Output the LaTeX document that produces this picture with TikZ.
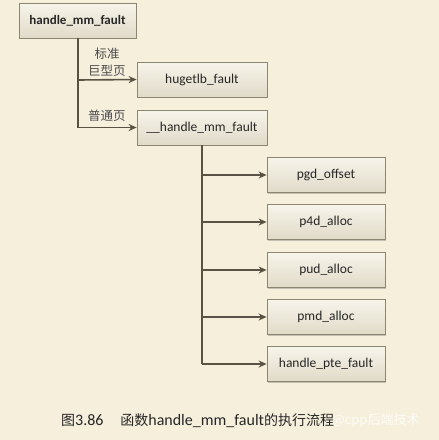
\documentclass[tikz,border=0pt]{standalone}
\usepackage{fontspec}
\setmainfont{Carlito}
\newfontfamily\cjk{Noto Sans CJK SC}
\usetikzlibrary{shadows,arrows.meta}
\definecolor{bg}{HTML}{F5EFDC}
\definecolor{ln}{HTML}{5A5244}
\definecolor{bd}{HTML}{8C8572}
\definecolor{ftop}{HTML}{F7F4EA}
\definecolor{fbot}{HTML}{E0DAC8}
\tikzset{
  fbox/.style={draw=bd, line width=0.8pt, top color=ftop, bottom color=fbot,
    minimum height=35pt, inner sep=0pt, font=\fontsize{13.5}{15}\selectfont, text=black!85,
    drop shadow={shadow xshift=1.2pt, shadow yshift=-1.2pt, opacity=0.35, fill=black!60}},
  conn/.style={draw=ln, line width=1.6pt},
  arr/.style={conn, -{Stealth[length=8pt,width=7pt]}},
  lab/.style={font=\cjk\fontsize{12.5}{17}\selectfont, text=black!70, align=center, inner sep=0pt}
}
\begin{document}
\begin{tikzpicture}[x=1pt,y=-1pt]
\fill[bg] (0,0) rectangle (439,440);
\useasboundingbox (0,0) rectangle (439,440);
\node[fbox, minimum width=117pt, font=\bfseries\fontsize{13}{15}\selectfont] (a) at (77.5,20.5) {handle\_mm\_fault};
\node[fbox, minimum width=130pt] (b) at (202,79.5) {hugetlb\_fault};
\node[fbox, minimum width=130pt] (c) at (202,127.5) {\_\_handle\_mm\_fault};
\node[fbox, minimum width=118pt] (d1) at (326,175) {pgd\_offset};
\node[fbox, minimum width=118pt] (d2) at (326,222) {p4d\_alloc};
\node[fbox, minimum width=118pt] (d3) at (326,270) {pud\_alloc};
\node[fbox, minimum width=118pt] (d4) at (326,317) {pmd\_alloc};
\node[fbox, minimum width=118pt] (d5) at (326,364) {handle\_pte\_fault};
\coordinate (ja) at (78,80);
\coordinate (jb) at (78,127.5);
\draw[conn] (a.south -| ja) -- (jb);
\draw[arr] (ja) -- (b.west);
\draw[arr] (jb) -- (c.west);
\coordinate (k1) at (202,175);
\coordinate (k2) at (202,222);
\coordinate (k3) at (202,270);
\coordinate (k4) at (202,317);
\coordinate (k5) at (202,364);
\draw[conn] (c.south) -- (k5);
\draw[arr] (k1) -- (d1.west);
\draw[arr] (k2) -- (d2.west);
\draw[arr] (k3) -- (d3.west);
\draw[arr] (k4) -- (d4.west);
\draw[arr] (k5) -- (d5.west);
\node[lab] (l1) at (107,62) {标准\\巨型页};
\node[lab] (l2) at (107,115.5) {普通页};
\node[font=\fontsize{16}{18}\selectfont, text=black!85, anchor=west, inner sep=0pt] (cap) at (61,421) {{\cjk\fontsize{14}{18}\selectfont 图}3.86\hspace{1.05em}{\cjk\fontsize{14}{18}\selectfont 函数}handle\_mm\_fault{\cjk\fontsize{14}{18}\selectfont 的执行流程}};
\node[font=\cjk\fontsize{13}{15}\selectfont, text=white, opacity=0.8, anchor=west, inner sep=0pt] (wm) at ([xshift=-2pt]cap.east) {@cpp后端技术};
\end{tikzpicture}
\end{document}
